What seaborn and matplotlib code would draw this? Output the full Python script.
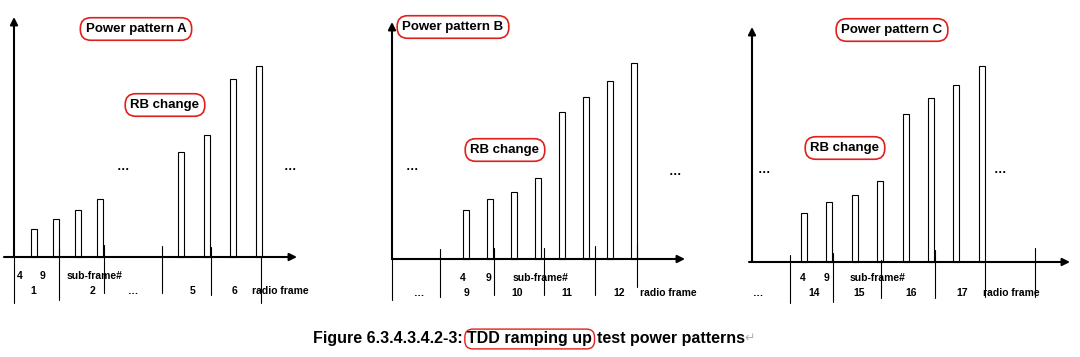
import matplotlib
matplotlib.use("Agg")
import matplotlib.pyplot as plt
import numpy as np
import pandas as pd
import seaborn as sns

# values (power, arbitrary units)
patterns = ["A", "B", "C"]
power_a = [28, 38, 47, 58, 105, 122, 178, 191]
power_b = [49, 60, 67, 81, 147, 162, 178, 196]
power_c = [49, 60, 67, 81, 148, 164, 177, 196]
subframes = ["4", "9"]
frames_a = ["1", "2", "…", "5", "6"]
frames_b = ["…", "9", "10", "11", "12"]
frames_c = ["…", "14", "15", "16", "17"]
caption_parts = ["Figure 6.3.4.3.4.2-3:", "TDD ramping up", "test power patterns"]

W, H = 1080, 357
PANEL_W, PANEL_H = 360, 310
RED = "#e0201c"
FONTS = ["Liberation Sans", "DejaVu Sans"]

# layout per panel, in pixels local to the panel (image y grows downward)
LAYOUT = {
    "A": dict(left=0, base=257, bars=(34, 22, 181, 26), yaxis=(14, 17, 303), xaxis=(4, 297),
              dividers=[(59, 248, 300), (104, 245, 293), (162, 246, 293), (211, 247, 295), (261, 257, 303)],
              sub_x=(20, 42, 95), sub_y=276, frame_x=[33, 92, 133, 193, 235], radio_x=252, frame_y=291,
              dots=[(123, 167), (290, 167)], title=(136, 29), rb=(165, 105)),
    "B": dict(left=360, base=259, bars=(106, 24, 202, 24), yaxis=(32, 22, 300), xaxis=(32, 325),
              dividers=[(80, 249, 297), (134, 248, 295), (184, 248, 295), (235, 246, 295), (277, 243, 287)],
              sub_x=(103, 128, 181), sub_y=278, frame_x=[59, 107, 157, 207, 259], radio_x=280, frame_y=293,
              dots=[(52, 167), (315, 172)], title=(93, 27), rb=(145, 150)),
    "C": dict(left=720, base=262, bars=(84, 25.4, 185.6, 25.4), yaxis=(32, 27, 262), xaxis=(29, 350),
              dividers=[(70, 255, 303), (113, 253, 302), (161, 260, 298), (215, 250, 298), (265, 263, 297),
                        (315, 248, 297)],
              sub_x=(83, 107, 158), sub_y=278, frame_x=[38, 94, 139, 191, 242], radio_x=263, frame_y=293,
              dots=[(44, 170), (280, 170)], title=(172, 30), rb=(125, 148)),
}
BAR_PX = 6

sns.set_style("white")
plt.rcParams["font.family"] = FONTS
plt.rcParams["text.color"] = "black"

fig = plt.figure(figsize=(W / 100, H / 100), dpi=100)


def draw_panel(name, power, frames):
    lay = LAYOUT[name]
    base = lay["base"]
    ax = fig.add_axes([lay["left"] / W, 1 - PANEL_H / H, PANEL_W / W, PANEL_H / H])

    x0, step, x4, step2 = lay["bars"]
    pos = np.r_[x0 + step * np.arange(4), x4 + step2 * np.arange(4)]
    df = pd.DataFrame({"pos": pos, "power": power})
    sns.barplot(data=df, x="pos", y="power", native_scale=True, fill=False, color="black",
                width=BAR_PX / np.diff(pos).min(), errorbar=None, linewidth=0.8, ax=ax)

    def y(img_y):
        return base - img_y

    # axes with arrows
    yx, ytop, ybot = lay["yaxis"]
    ax.annotate("", xy=(yx, y(ytop)), xytext=(yx, 0),
                arrowprops=dict(arrowstyle="-|>", color="black", lw=1.5, mutation_scale=11,
                                shrinkA=0, shrinkB=0))
    ax.plot([yx, yx], [0, y(ybot)], color="black", lw=0.8)
    xa, xb = lay["xaxis"]
    ax.annotate("", xy=(xb, 0), xytext=(xa, 0),
                arrowprops=dict(arrowstyle="-|>", color="black", lw=1.5, mutation_scale=11,
                                shrinkA=0, shrinkB=0))

    for dx, dt, db in lay["dividers"]:
        ax.plot([dx, dx], [y(dt), y(db)], color="black", lw=0.8)

    small = dict(fontsize=7.5, fontweight="bold", ha="center", va="center")
    sx4, sx9, sxl = lay["sub_x"]
    ax.text(sx4, y(lay["sub_y"]), subframes[0], **small)
    ax.text(sx9, y(lay["sub_y"]), subframes[1], **small)
    ax.text(sxl, y(lay["sub_y"]), "sub-frame#", **small)
    for fx, lab in zip(lay["frame_x"], frames):
        ax.text(fx, y(lay["frame_y"]), lab, **small)
    ax.text(lay["radio_x"], y(lay["frame_y"]), "radio frame", fontsize=7.5, fontweight="bold",
            ha="left", va="center")
    for dx, dy in lay["dots"]:
        ax.text(dx, y(dy), "…", fontsize=9, fontweight="bold", ha="center", va="center")

    box = dict(boxstyle="round,pad=0.4,rounding_size=0.8", fc="white", ec=RED, lw=1.2)
    tx, ty = lay["title"]
    ax.text(tx, y(ty), f"Power pattern {name}", fontsize=9.5, fontweight="bold",
            ha="center", va="center", bbox=box, zorder=5)
    rx, ry = lay["rb"]
    ax.text(rx, y(ry), "RB change", fontsize=9.5, fontweight="bold",
            ha="center", va="center", bbox=box, zorder=5)

    ax.set_xlim(0, PANEL_W)
    ax.set_ylim(base - PANEL_H, base)
    ax.axis("off")


for name, power, frames in zip(patterns, [power_a, power_b, power_c], [frames_a, frames_b, frames_c]):
    draw_panel(name, power, frames)

# caption, laid out piece by piece so the middle part can carry its own box
renderer = fig.canvas.get_renderer()
cap_y = 1 - 339 / H
cap = dict(fontsize=11.5, fontweight="bold", va="center", ha="left")
space = 4.5 / W
t1 = fig.text(313 / W, cap_y, caption_parts[0], **cap)
x = t1.get_window_extent(renderer).x1 / W + space
t2 = fig.text(x, cap_y, caption_parts[1], **cap,
              bbox=dict(boxstyle="round,pad=0.15,rounding_size=0.5", fc="none", ec=RED, lw=1.0))
x = t2.get_window_extent(renderer).x1 / W + space
t3 = fig.text(x, cap_y, caption_parts[2], **cap)
x = t3.get_window_extent(renderer).x1 / W
fig.text(x, cap_y, "↵", fontsize=9, color="#b0b0b0", va="center", ha="left")

fig.savefig("out.png", dpi=100, facecolor="white")
